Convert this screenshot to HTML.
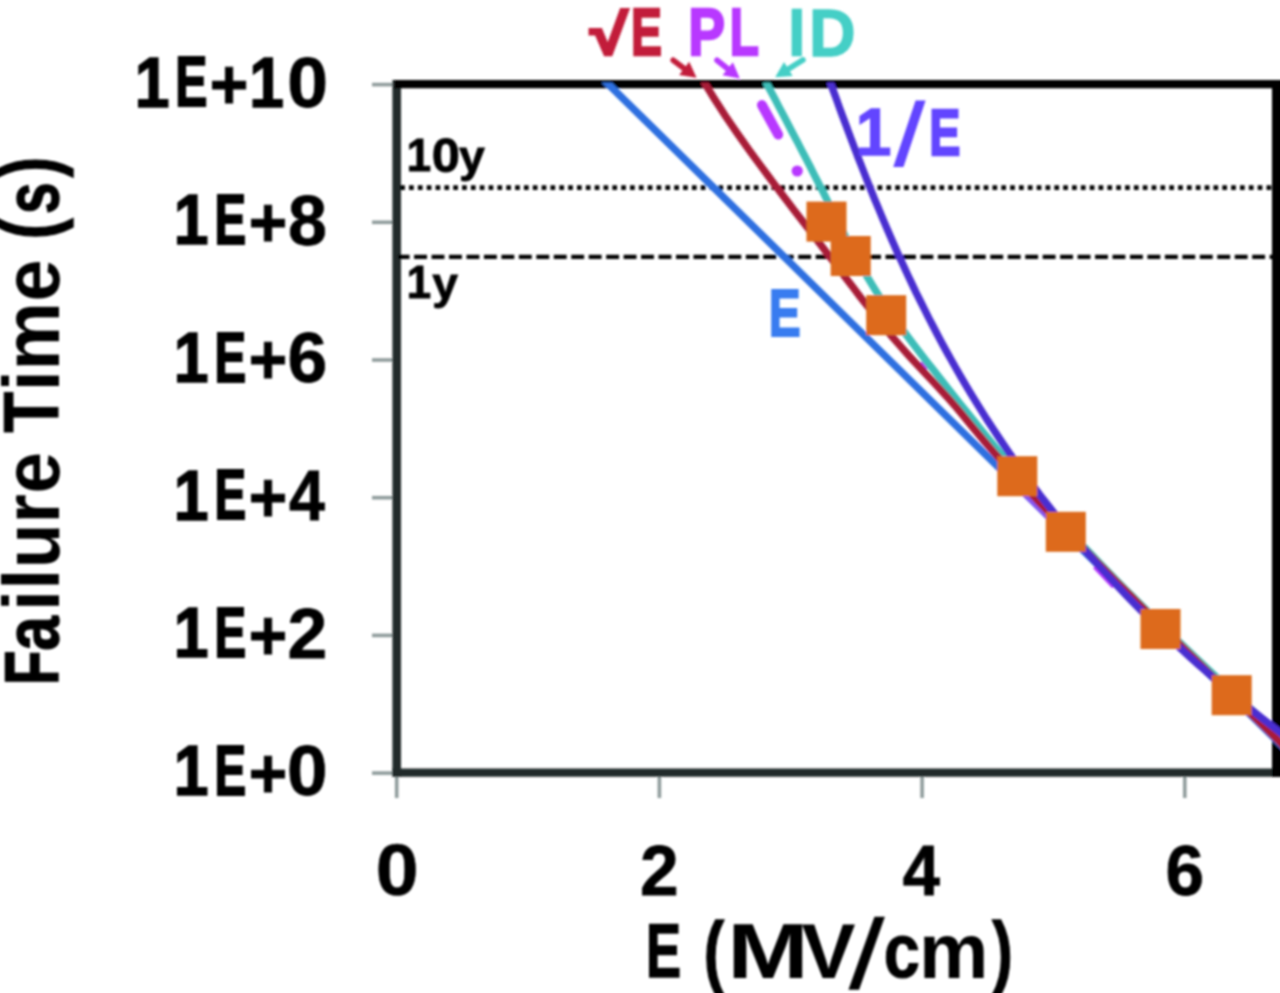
<!DOCTYPE html>
<html lang="en"><head><meta charset="utf-8"><title>Failure Time vs E</title>
<style>html,body{margin:0;padding:0;background:#fff;width:1280px;height:993px;overflow:hidden}#chart{position:relative;width:1280px;height:993px;overflow:hidden;background:#fff}#chart svg{display:block;position:absolute;left:-20px;top:-20px}</style></head>
<body>
<div id="chart">
<svg width="1320" height="1033" viewBox="-20 -20 1320 1033" font-family="'Liberation Sans', sans-serif" font-weight="bold" font-size="70">
<defs><clipPath id="plot"><rect x="396.7" y="82.6" width="910" height="690"/></clipPath><filter id="soft" filterUnits="userSpaceOnUse" x="-20" y="-20" width="1320" height="1033"><feGaussianBlur stdDeviation="0.85"/></filter></defs>
<rect x="-20" y="-20" width="1320" height="1033" fill="#fff"/>
<g filter="url(#soft)">
<g stroke="#8f9b9b" stroke-width="3.6" fill="none">
<line x1="372" y1="84.6" x2="394" y2="84.6"/>
<line x1="372" y1="222.3" x2="394" y2="222.3"/>
<line x1="372" y1="360.0" x2="394" y2="360.0"/>
<line x1="372" y1="497.7" x2="394" y2="497.7"/>
<line x1="372" y1="635.4" x2="394" y2="635.4"/>
<line x1="372" y1="773.1" x2="394" y2="773.1"/>
<line x1="396.7" y1="774" x2="396.7" y2="798"/>
<line x1="659.4" y1="774" x2="659.4" y2="798"/>
<line x1="922.1" y1="774" x2="922.1" y2="798"/>
<line x1="1184.8" y1="774" x2="1184.8" y2="798"/>
</g>
<g fill="none" stroke-linecap="butt">
<line x1="396.7" y1="80" x2="396.7" y2="776.7" stroke="#222a2a" stroke-width="8.6"/>
<line x1="392.4" y1="772.6" x2="1300" y2="772.6" stroke="#222a2a" stroke-width="8.4"/>
<line x1="394.5" y1="84.1" x2="1300" y2="84.1" stroke="#000" stroke-width="8.2"/>
<rect x="1272" y="80" width="28" height="696.8" fill="#000"/>
</g>
<g stroke="#000" stroke-width="4.3" fill="none">
<line x1="400.2" y1="187.6" x2="1276" y2="187.6" stroke-dasharray="4.7 4.14" stroke-width="4.6"/>
<line x1="398" y1="256.8" x2="1276" y2="256.8" stroke-dasharray="12.9 4.56" stroke-dashoffset="1.36"/>
</g>
<g clip-path="url(#plot)" fill="none" stroke-width="7.4" stroke-linecap="butt" stroke-linejoin="round">
<path d="M604.1 80.0 L1301.7 765.0" stroke="#2f6fe0"/>
<g stroke="#b838ff" stroke-width="9.9" stroke-linecap="round">
<line x1="761.9" y1="105" x2="778.2" y2="134.6"/>
</g>
<circle cx="797.2" cy="171" r="5.6" fill="#b838ff" stroke="none"/>
<g stroke="#8658f2" stroke-width="7.4">
<line x1="1022" y1="490.3" x2="1050" y2="517.9"/>
</g>
<g stroke="#b838ff" stroke-width="6">
<line x1="920.5" y1="362.5" x2="926.5" y2="369.5"/>
<line x1="947" y1="395" x2="960" y2="410"/>
<line x1="1095.2" y1="566.3" x2="1114.2" y2="586.3"/>
</g>
<path d="M765.7 81.7 L770.2 90.2 L774.7 98.6 L779.1 107.1 L783.6 115.5 L788.0 124.0 L792.4 132.5 L796.9 140.9 L801.2 149.4 L805.6 157.8 L810.0 166.3 L814.3 174.8 L818.6 183.2 L822.9 191.7 L827.1 200.1 L831.3 208.6 L835.6 217.1 L839.8 225.5 L844.1 234.0 L848.4 242.4 L852.8 250.9 L857.4 259.3 L862.1 267.8 L867.0 276.3 L872.0 284.7 L877.3 293.2 L882.8 301.6 L888.5 310.1 L894.5 318.6 L900.6 327.0 L906.9 335.5 L913.3 343.9 L919.8 352.4 L926.3 360.9 L933.0 369.3 L939.6 377.8 L946.3 386.2 L953.0 394.7 L959.7 403.2 L966.5 411.6 L973.3 420.1 L980.1 428.5 L987.0 437.0 L994.0 445.5 L1001.0 453.9 L1008.1 462.4 L1015.3 470.8 L1022.6 479.3 L1029.9 487.8 L1037.4 496.2 L1044.9 504.7 L1052.6 513.1 L1060.3 521.6 L1068.1 530.1 L1076.1 538.5 L1084.1 547.0 L1092.2 555.4 L1100.3 563.9 L1108.6 572.4 L1116.9 580.8 L1125.3 589.3 L1133.8 597.7 L1142.3 606.2 L1150.9 614.6 L1159.6 623.1 L1168.3 631.6 L1177.1 640.0 L1186.0 648.5 L1194.9 656.9 L1203.9 665.4 L1212.9 673.9 L1221.9 682.3 L1231.1 690.8 L1240.2 699.2 L1249.4 707.7 L1258.6 716.2 L1267.9 724.6 L1277.2 733.1 L1286.5 741.5 L1295.9 750.0" stroke="#3dbdb8"/>
<path d="M703.5 81.0 L708.7 89.6 L714.0 98.2 L719.5 106.8 L725.1 115.4 L730.9 124.0 L736.8 132.6 L742.8 141.2 L749.0 149.8 L755.2 158.4 L761.5 166.9 L767.9 175.5 L774.3 184.1 L780.8 192.7 L787.3 201.3 L793.9 209.9 L800.5 218.5 L807.1 227.1 L813.7 235.7 L820.3 244.3 L826.9 252.9 L833.4 261.5 L839.9 270.1 L846.4 278.7 L853.0 287.3 L859.5 295.9 L866.2 304.5 L872.9 313.1 L879.8 321.7 L886.8 330.3 L894.0 338.8 L901.5 347.4 L909.1 356.0 L917.0 364.6 L925.1 373.2 L933.2 381.8 L941.2 390.4 L949.0 399.0 L956.5 407.6 L963.6 416.2 L970.7 424.8 L977.8 433.4 L985.0 442.0 L992.4 450.6 L1000.0 459.2 L1007.6 467.8 L1015.4 476.4 L1023.2 485.0 L1031.2 493.6 L1039.2 502.2 L1047.3 510.7 L1055.5 519.3 L1063.7 527.9 L1072.0 536.5 L1080.4 545.1 L1088.8 553.7 L1097.3 562.3 L1105.8 570.9 L1114.3 579.5 L1122.9 588.1 L1131.5 596.7 L1140.2 605.3 L1148.9 613.9 L1157.6 622.5 L1166.3 631.1 L1175.1 639.7 L1183.9 648.3 L1192.7 656.9 L1201.5 665.5 L1210.3 674.1 L1219.1 682.6 L1227.9 691.2 L1236.8 699.8 L1245.6 708.4 L1254.4 717.0 L1263.2 725.6 L1271.9 734.2 L1280.7 742.8 L1289.4 751.4 L1298.1 760.0" stroke="#a81c38"/>
<path d="M830.0 81.7 L833.1 90.1 L836.2 98.6 L839.2 107.0 L842.3 115.4 L845.5 123.9 L848.6 132.3 L851.8 140.7 L855.0 149.2 L858.2 157.6 L861.5 166.0 L864.8 174.5 L868.1 182.9 L871.5 191.3 L874.9 199.8 L878.4 208.2 L881.9 216.6 L885.5 225.1 L889.1 233.5 L892.8 241.9 L896.5 250.4 L900.3 258.8 L904.2 267.3 L908.1 275.7 L912.1 284.1 L916.1 292.6 L920.3 301.0 L924.5 309.4 L928.7 317.9 L933.1 326.3 L937.5 334.7 L942.0 343.2 L946.6 351.6 L951.3 360.0 L956.1 368.5 L960.9 376.9 L965.9 385.3 L971.0 393.8 L976.1 402.2 L981.4 410.6 L986.7 419.1 L992.2 427.5 L997.7 435.9 L1003.4 444.4 L1009.2 452.8 L1015.1 461.2 L1021.2 469.7 L1027.3 478.1 L1033.6 486.5 L1039.9 495.0 L1046.5 503.4 L1053.1 511.8 L1059.9 520.3 L1066.8 528.7 L1073.8 537.1 L1081.0 545.6 L1088.3 554.0 L1095.8 562.4 L1103.4 570.9 L1111.2 579.3 L1119.1 587.8 L1127.1 596.2 L1135.3 604.6 L1143.7 613.1 L1152.2 621.5 L1160.9 629.9 L1169.7 638.4 L1178.8 646.8 L1187.9 655.2 L1197.3 663.7 L1206.8 672.1 L1216.5 680.5 L1226.4 689.0 L1236.4 697.4 L1246.7 705.8 L1257.1 714.3 L1267.7 722.7 L1278.5 731.1 L1289.5 739.6 L1300.7 748.0" stroke="#4a2fd0"/>
</g>
<g fill="#dd6b1c">
<rect x="806.5" y="201.6" width="40" height="40"/>
<rect x="830.7" y="236.0" width="40" height="40"/>
<rect x="866.2" y="295.2" width="40" height="40"/>
<rect x="997.3" y="456.2" width="40" height="40"/>
<rect x="1045.8" y="511.8" width="40" height="40"/>
<rect x="1140.5" y="609.0" width="40" height="40"/>
<rect x="1211.7" y="675.2" width="40" height="40"/>
</g>
<line x1="673.2" y1="60.2" x2="685.8" y2="69.7" stroke="#c21f3a" stroke-width="5.6" stroke-linecap="round"/><polygon points="696.6,77.8 679.2,75.1 689.2,61.8" fill="#c21f3a"/>
<line x1="717.0" y1="60.2" x2="729.2" y2="70.0" stroke="#b838ff" stroke-width="5.6" stroke-linecap="round"/><polygon points="739.8,78.4 722.5,75.2 732.9,62.2" fill="#b838ff"/>
<line x1="803.0" y1="59.9" x2="786.7" y2="70.1" stroke="#45cfc6" stroke-width="5.6" stroke-linecap="round"/><polygon points="775.2,77.2 784.0,62.0 792.7,76.1" fill="#45cfc6"/>
<g stroke-linejoin="miter">
<text fill="#000"><tspan x="134.85" y="106.5" font-size="70.14" textLength="34.79" lengthAdjust="spacingAndGlyphs" stroke="#000" stroke-width="1.6">1</tspan><tspan x="175.27" y="106.3" font-size="69.57" textLength="32.11" lengthAdjust="spacingAndGlyphs" stroke="#000" stroke-width="2">E</tspan><tspan x="209.65" y="109" font-size="71.01" textLength="38.62" lengthAdjust="spacingAndGlyphs" stroke="#000" stroke-width="1">+</tspan><tspan x="249.26" y="106.5" font-size="70.14" textLength="34.67" lengthAdjust="spacingAndGlyphs" stroke="#000" stroke-width="1.6">1</tspan><tspan x="287.17" y="106.9" font-size="71.3" textLength="40.75" lengthAdjust="spacingAndGlyphs" stroke="#000" stroke-width="0.8">0</tspan></text>
<text fill="#000"><tspan x="173.65" y="244.2" font-size="70.14" textLength="34.79" lengthAdjust="spacingAndGlyphs" stroke="#000" stroke-width="1.6">1</tspan><tspan x="214.42" y="244" font-size="69.57" textLength="31.64" lengthAdjust="spacingAndGlyphs" stroke="#000" stroke-width="2">E</tspan><tspan x="248.66" y="246.7" font-size="71.01" textLength="38.51" lengthAdjust="spacingAndGlyphs" stroke="#000" stroke-width="1">+</tspan><tspan x="287.9" y="244.6" font-size="71.3" textLength="38.88" lengthAdjust="spacingAndGlyphs" stroke="#000" stroke-width="0.8">8</tspan></text>
<text fill="#000"><tspan x="173.65" y="381.9" font-size="70.14" textLength="34.79" lengthAdjust="spacingAndGlyphs" stroke="#000" stroke-width="1.6">1</tspan><tspan x="214.42" y="381.7" font-size="69.57" textLength="31.64" lengthAdjust="spacingAndGlyphs" stroke="#000" stroke-width="2">E</tspan><tspan x="248.66" y="384.4" font-size="71.01" textLength="38.51" lengthAdjust="spacingAndGlyphs" stroke="#000" stroke-width="1">+</tspan><tspan x="287.5" y="382.3" font-size="71.3" textLength="39.68" lengthAdjust="spacingAndGlyphs" stroke="#000" stroke-width="0.8">6</tspan></text>
<text fill="#000"><tspan x="173.65" y="519.6" font-size="70.14" textLength="34.79" lengthAdjust="spacingAndGlyphs" stroke="#000" stroke-width="1.6">1</tspan><tspan x="214.42" y="519.4" font-size="69.57" textLength="31.64" lengthAdjust="spacingAndGlyphs" stroke="#000" stroke-width="2">E</tspan><tspan x="248.66" y="522.1" font-size="71.01" textLength="38.51" lengthAdjust="spacingAndGlyphs" stroke="#000" stroke-width="1">+</tspan><tspan x="289.03" y="520" font-size="71.3" textLength="35.97" lengthAdjust="spacingAndGlyphs" stroke="#000" stroke-width="0.8">4</tspan></text>
<text fill="#000"><tspan x="173.65" y="657.3" font-size="70.14" textLength="34.79" lengthAdjust="spacingAndGlyphs" stroke="#000" stroke-width="1.6">1</tspan><tspan x="214.42" y="657.1" font-size="69.57" textLength="31.64" lengthAdjust="spacingAndGlyphs" stroke="#000" stroke-width="2">E</tspan><tspan x="248.66" y="659.8" font-size="71.01" textLength="38.51" lengthAdjust="spacingAndGlyphs" stroke="#000" stroke-width="1">+</tspan><tspan x="287.5" y="657.7" font-size="71.3" textLength="39.68" lengthAdjust="spacingAndGlyphs" stroke="#000" stroke-width="0.8">2</tspan></text>
<text fill="#000"><tspan x="173.65" y="795" font-size="70.14" textLength="34.79" lengthAdjust="spacingAndGlyphs" stroke="#000" stroke-width="1.6">1</tspan><tspan x="214.42" y="794.8" font-size="69.57" textLength="31.64" lengthAdjust="spacingAndGlyphs" stroke="#000" stroke-width="2">E</tspan><tspan x="248.66" y="797.5" font-size="71.01" textLength="38.51" lengthAdjust="spacingAndGlyphs" stroke="#000" stroke-width="1">+</tspan><tspan x="287.09" y="795.4" font-size="71.3" textLength="40.51" lengthAdjust="spacingAndGlyphs" stroke="#000" stroke-width="0.8">0</tspan></text>
<text fill="#000"><tspan x="375.82" y="895.1" font-size="71.59" textLength="42.85" lengthAdjust="spacingAndGlyphs" stroke="#000" stroke-width="0.6">0</tspan></text>
<text fill="#000"><tspan x="640.07" y="894.8" font-size="71.3" textLength="38.65" lengthAdjust="spacingAndGlyphs" stroke="#000" stroke-width="0.8">2</tspan></text>
<text fill="#000"><tspan x="902.8" y="894.8" font-size="71.3" textLength="37.22" lengthAdjust="spacingAndGlyphs" stroke="#000" stroke-width="0.8">4</tspan></text>
<text fill="#000"><tspan x="1165.48" y="895" font-size="71.3" textLength="38.53" lengthAdjust="spacingAndGlyphs" stroke="#000" stroke-width="0.8">6</tspan></text>
<text fill="#000"><tspan x="646.1" y="977.08" font-size="75.45" textLength="35.13" lengthAdjust="spacingAndGlyphs" stroke="#000" stroke-width="1.44">E</tspan> <tspan x="703.67" y="977.88" font-size="80.49" textLength="20.29" lengthAdjust="spacingAndGlyphs" stroke="#000" stroke-width="1.44">(</tspan><tspan x="727.24" y="977.8" font-size="77.54" textLength="81.53" lengthAdjust="spacingAndGlyphs">M</tspan><tspan x="801.6" y="977.8" font-size="77.54" textLength="53.97" lengthAdjust="spacingAndGlyphs">V</tspan><tspan x="848.75" y="988.38" font-size="98.24" textLength="35.83" lengthAdjust="spacingAndGlyphs" font-weight="normal" stroke="#000" stroke-width="0.3">/</tspan><tspan x="883.65" y="977.25" font-size="75.95" textLength="36.1" lengthAdjust="spacingAndGlyphs" stroke="#000" stroke-width="1.09">c</tspan><tspan x="918.92" y="977.8" font-size="77.54" textLength="69.51" lengthAdjust="spacingAndGlyphs">m</tspan><tspan x="992.22" y="977.88" font-size="80.49" textLength="20.52" lengthAdjust="spacingAndGlyphs" stroke="#000" stroke-width="1.44">)</tspan></text>
<text fill="#c21f3a"><tspan x="590.2" y="54.26" font-size="56.15" textLength="37.22" lengthAdjust="spacingAndGlyphs" stroke="#c21f3a" stroke-width="3">√</tspan><tspan x="630.99" y="55" font-size="66.09" textLength="30.93" lengthAdjust="spacingAndGlyphs" stroke="#c21f3a" stroke-width="2.4">E</tspan></text>
<text fill="#b838ff"><tspan x="688.32" y="55" font-size="66.09" textLength="36.75" lengthAdjust="spacingAndGlyphs" stroke="#b838ff" stroke-width="2.4">P</tspan><tspan x="729.7" y="54.9" font-size="65.8" textLength="29.18" lengthAdjust="spacingAndGlyphs" stroke="#b838ff" stroke-width="2.6">L</tspan></text>
<text fill="#45cfc6"><tspan x="787.45" y="55.9" font-size="68.7" textLength="18.59" lengthAdjust="spacingAndGlyphs" stroke="#45cfc6" stroke-width="0.6">I</tspan><tspan x="809" y="55.5" font-size="67.54" textLength="46.62" lengthAdjust="spacingAndGlyphs" stroke="#45cfc6" stroke-width="1.4">D</tspan></text>
<text fill="#6245ff"><tspan x="855.86" y="155.3" font-size="67.1" textLength="35.62" lengthAdjust="spacingAndGlyphs" stroke="#6245ff" stroke-width="1.4">1</tspan><tspan x="894.2" y="165.87" font-size="88.38" textLength="30.37" lengthAdjust="spacingAndGlyphs" font-weight="normal" stroke="#6245ff" stroke-width="1.2">/</tspan><tspan x="929.16" y="154.8" font-size="65.65" textLength="31.17" lengthAdjust="spacingAndGlyphs" stroke="#6245ff" stroke-width="2.4">E</tspan></text>
<text fill="#377cf0"><tspan x="768.78" y="335.5" font-size="66.38" textLength="31.99" lengthAdjust="spacingAndGlyphs" stroke="#377cf0" stroke-width="2">E</tspan></text>
<text fill="#000"><tspan x="406.67" y="171.4" font-size="46.38" textLength="24.38" lengthAdjust="spacingAndGlyphs" stroke="#000" stroke-width="1">1</tspan><tspan x="431.67" y="171.8" font-size="47.54" textLength="28.22" lengthAdjust="spacingAndGlyphs" stroke="#000" stroke-width="0.8">0</tspan><tspan x="459.04" y="171.68" font-size="44.86" textLength="25.85" lengthAdjust="spacingAndGlyphs" stroke="#000" stroke-width="0.8">y</tspan></text>
<text fill="#000"><tspan x="406.67" y="298.3" font-size="46.38" textLength="24.38" lengthAdjust="spacingAndGlyphs" stroke="#000" stroke-width="1">1</tspan><tspan x="432.34" y="298.85" font-size="45" textLength="25.75" lengthAdjust="spacingAndGlyphs" stroke="#000" stroke-width="0.8">y</tspan></text>
<text fill="#000" transform="rotate(-90)"><tspan x="-684.95" y="58.18" font-size="76.75" textLength="34.45" lengthAdjust="spacingAndGlyphs" stroke="#000" stroke-width="1.44">F</tspan><tspan x="-650.65" y="58.18" font-size="76.75" textLength="34.58" lengthAdjust="spacingAndGlyphs" stroke="#000" stroke-width="1.44">a</tspan><tspan x="-611" y="58.9" font-size="78.84" textLength="21.04" lengthAdjust="spacingAndGlyphs">i</tspan><tspan x="-589.8" y="58.9" font-size="78.84" textLength="21.04" lengthAdjust="spacingAndGlyphs">l</tspan><tspan x="-568.29" y="58.9" font-size="78.84" textLength="44.71" lengthAdjust="spacingAndGlyphs">u</tspan><tspan x="-523.41" y="58.9" font-size="78.84" textLength="29.38" lengthAdjust="spacingAndGlyphs">r</tspan><tspan x="-493.59" y="58.9" font-size="78.84" textLength="41.51" lengthAdjust="spacingAndGlyphs">e</tspan> <tspan x="-432.86" y="58.39" font-size="77.35" textLength="41.08" lengthAdjust="spacingAndGlyphs" stroke="#000" stroke-width="1.03">T</tspan><tspan x="-391.2" y="58.9" font-size="78.84" textLength="21.04" lengthAdjust="spacingAndGlyphs">i</tspan><tspan x="-370.5" y="58.9" font-size="78.84" textLength="68.46" lengthAdjust="spacingAndGlyphs">m</tspan><tspan x="-301.53" y="58.9" font-size="78.84" textLength="42.09" lengthAdjust="spacingAndGlyphs">e</tspan> <tspan x="-239.3" y="55.88" font-size="79.53" textLength="20.77" lengthAdjust="spacingAndGlyphs" stroke="#000" stroke-width="1.44">(</tspan><tspan x="-213.97" y="58.18" font-size="76.75" textLength="31.59" lengthAdjust="spacingAndGlyphs" stroke="#000" stroke-width="1.44">s</tspan><tspan x="-177.18" y="55.88" font-size="79.53" textLength="20.29" lengthAdjust="spacingAndGlyphs" stroke="#000" stroke-width="1.44">)</tspan></text>
</g>
</g>
</svg>
</div>
</body></html>
